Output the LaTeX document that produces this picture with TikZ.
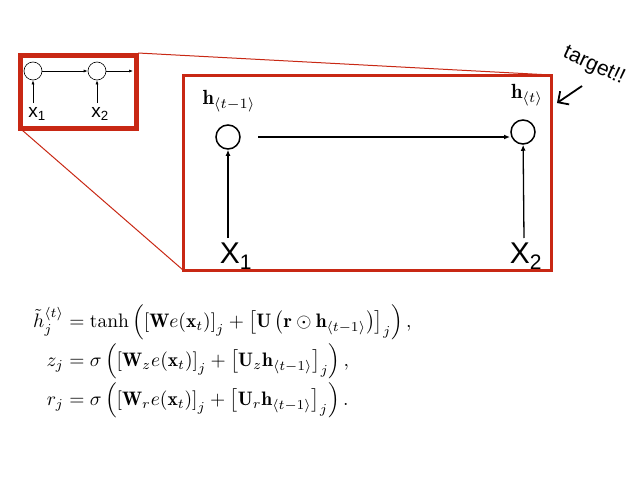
\documentclass[tikz,border=0pt]{standalone}
\usepackage{amsmath,amssymb,bm,graphicx}
\usepackage{fontspec}
\newfontfamily\sff{Liberation Sans}
\usetikzlibrary{arrows.meta}
\definecolor{rd}{RGB}{200,40,20}
\begin{document}
\begin{tikzpicture}[x=1pt,y=-1pt,
  nd/.style={circle,draw,inner sep=0pt},
  ar/.style={-{Latex[length=6pt,width=5pt]},line width=1.3pt}]
\useasboundingbox (0,0) rectangle (638,479);
% zoom lines
\draw[rd,line width=1pt] (138,53) -- (551,75);
\draw[rd,line width=1pt] (22,130) -- (183,270);
% small box
\draw[rd,line width=5pt] (20,55) rectangle (136,128);
\node[nd,minimum size=18pt,line width=0.6pt] (s1) at (33,71) {};
\node[nd,minimum size=18pt,line width=0.6pt] (s2) at (97,71) {};
\coordinate (s3) at (133,71);
\node (sx1) at (37,114) {\sff\fontsize{19}{19}\selectfont x\textsubscript{1}};
\node (sx2) at (100,114) {\sff\fontsize{19}{19}\selectfont x\textsubscript{2}};
\draw[-{Latex[length=4pt,width=3pt]},line width=0.6pt] (33,103) -- (s1);
\draw[-{Latex[length=4pt,width=3pt]},line width=0.6pt] (97,103) -- (s2);
\draw[-{Latex[length=4pt,width=3pt]},line width=0.6pt] (s1) -- (s2);
\draw[-{Latex[length=4pt,width=3pt]},line width=0.6pt] (s2) -- (s3);
% big box
\draw[rd,line width=3pt] (183,75) rectangle (551,270);
\node[nd,minimum size=24pt,line width=1.5pt] (b1) at (228,137) {};
\node[nd,minimum size=24pt,line width=1.5pt] (b2) at (523,132) {};
\node (h1) at (229,101) {\scalebox{2.05}{$\mathbf{h}_{\langle t-1\rangle}$}};
\node (h2) at (527,95) {\scalebox{2.05}{$\mathbf{h}_{\langle t\rangle}$}};
\node (X1) at (236,256) {\sff\fontsize{30}{30}\selectfont X\textsubscript{1}};
\node (X2) at (526,256) {\sff\fontsize{30}{30}\selectfont X\textsubscript{2}};
\coordinate (a0) at (258,137);
\coordinate (a1) at (510,137);
\draw[ar] (a0) -- (a1);
\draw[ar] (228,238) -- (b1);
\draw[ar] (524,238) -- (b2);
% target
\node[rotate=-25] (tg) at (594,66) {\sff\fontsize{21}{21}\selectfont target!!};
\coordinate (tgA) at (557,103);
\draw[-{Straight Barb[length=8pt]},line width=1.8pt] (582,86) -- (tgA);
% equations
\node[anchor=north west,inner sep=0pt] (eq) at (33,305) {\scalebox{1.95}{\setlength\jot{0pt}$\begin{aligned}
\tilde{h}_j^{\langle t\rangle} &= \tanh\left(\left[\mathbf{W}e(\mathbf{x}_t)\right]_j+\left[\mathbf{U}\left(\mathbf{r}\odot\mathbf{h}_{\langle t-1\rangle}\right)\right]_j\right),\\[1pt]
z_j &=\sigma\left(\left[\mathbf{W}_z e(\mathbf{x}_t)\right]_j+\left[\mathbf{U}_z\mathbf{h}_{\langle t-1\rangle}\right]_j\right),\\[1pt]
r_j &=\sigma\left(\left[\mathbf{W}_r e(\mathbf{x}_t)\right]_j+\left[\mathbf{U}_r\mathbf{h}_{\langle t-1\rangle}\right]_j\right).
\end{aligned}$}};
\end{tikzpicture}
\end{document}
